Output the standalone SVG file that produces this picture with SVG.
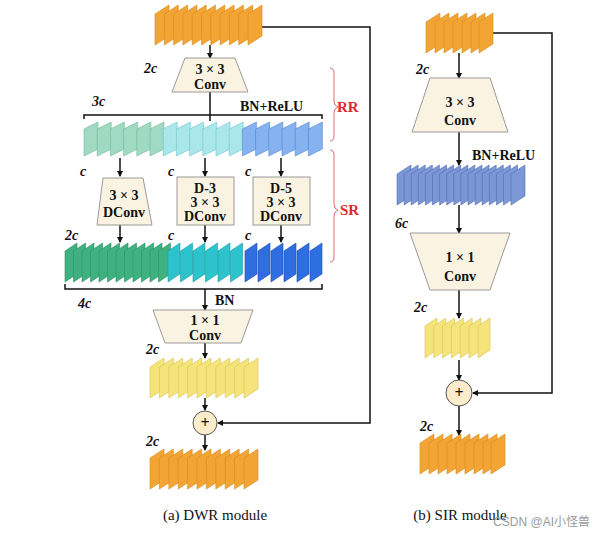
<svg xmlns="http://www.w3.org/2000/svg" xmlns:xlink="http://www.w3.org/1999/xlink" width="600" height="538" viewBox="0 0 600 538">
<style>
text{font-family:"Liberation Serif",serif;font-weight:bold;font-size:14px;fill:#111}
.lab{font-style:italic;font-size:14px}
.m{text-anchor:middle}
.red{fill:#e0282e;font-size:15px}
.cap{font-weight:normal;font-size:15px;text-anchor:middle}
.box{fill:#fbf3e2;stroke:#9a9a9a;stroke-width:1}
.ln{fill:none;stroke:#111;stroke-width:1.5}
.br{fill:none;stroke:#e06a6e;stroke-width:1}
.or{fill:#f2a534;stroke:#d8891a;stroke-width:0.6}
.ye{fill:#f5e47a;stroke:#d6c254;stroke-width:0.6}
.g1{fill:#a0dac2;stroke:#6fb99a;stroke-width:0.6}
.c1{fill:#a9e7ea;stroke:#6fc6cc;stroke-width:0.6}
.b1{fill:#86b2f0;stroke:#4f86d6;stroke-width:0.6}
.g2{fill:#3fb181;stroke:#27905f;stroke-width:0.6}
.c2{fill:#2dc3cc;stroke:#1a9aa3;stroke-width:0.6}
.b2{fill:#2f6ee0;stroke:#1d4fb2;stroke-width:0.6}
.bb{fill:#7b97d6;stroke:#4f6cb0;stroke-width:0.6}
</style>
<defs>
<marker id="ar" markerWidth="6" markerHeight="6" refX="5" refY="3" orient="auto" markerUnits="userSpaceOnUse"><path d="M0,0 L6,3 L0,6 z" fill="#111"/></marker>
<polygon id="s40" points="0,9 14,0 14,31 0,40"/>
<polygon id="s34" points="0,7 14,0 14,27 0,34"/>
<polygon id="s39" points="0,8 12,0 12,31 0,39"/>
<polygon id="s12" points="0,8 12,0 12,32 0,40"/>
</defs>
<rect width="600" height="538" fill="#fff"/>
<g id="connectors">
<path class="ln" d="M210,45 V58" marker-end="url(#ar)"/>
<path class="ln" d="M210,92 V121"/>
<path class="ln" d="M84,119 V115 H322 V119"/>
<path class="ln" d="M120,158 V176" marker-end="url(#ar)"/>
<path class="ln" d="M205,158 V176" marker-end="url(#ar)"/>
<path class="ln" d="M281,158 V176" marker-end="url(#ar)"/>
<path class="ln" d="M120,225 V242" marker-end="url(#ar)"/>
<path class="ln" d="M205,225 V242" marker-end="url(#ar)"/>
<path class="ln" d="M281,225 V242" marker-end="url(#ar)"/>
<path class="ln" d="M65,284 V289 H322 V284"/>
<path class="ln" d="M205,289 V310" marker-end="url(#ar)"/>
<path class="ln" d="M205,343 V358" marker-end="url(#ar)"/>
<path class="ln" d="M205,398 V410" marker-end="url(#ar)"/>
<path class="ln" d="M205,435 V450" marker-end="url(#ar)"/>
<path class="ln" d="M255,27 H370 V423 H218" marker-end="url(#ar)"/>
<path class="br" d="M330,68 q4,0 4,5 v28 q0,5 4,6 q-4,1 -4,6 v23 q0,5 -4,5"/>
<path class="br" d="M330,150 q4,0 4,5 v49 q0,5 4,6 q-4,1 -4,6 v41 q0,5 -4,5"/>
<path class="ln" d="M459,53 V78" marker-end="url(#ar)"/>
<path class="ln" d="M459,132 V165" marker-end="url(#ar)"/>
<path class="ln" d="M459,205 V233" marker-end="url(#ar)"/>
<path class="ln" d="M459,290 V318" marker-end="url(#ar)"/>
<path class="ln" d="M459,360 V380" marker-end="url(#ar)"/>
<path class="ln" d="M459,406 V435" marker-end="url(#ar)"/>
<path class="ln" d="M488,33 H552 V393 H473" marker-end="url(#ar)"/>
</g>
<g id="in_dwr">
<use href="#s40" x="155" y="5" class="or"/><use href="#s40" x="164.3" y="5" class="or"/><use href="#s40" x="173.6" y="5" class="or"/><use href="#s40" x="182.9" y="5" class="or"/><use href="#s40" x="192.2" y="5" class="or"/><use href="#s40" x="201.5" y="5" class="or"/><use href="#s40" x="210.8" y="5" class="or"/><use href="#s40" x="220.1" y="5" class="or"/><use href="#s40" x="229.4" y="5" class="or"/><use href="#s40" x="238.7" y="5" class="or"/><use href="#s40" x="248" y="5" class="or"/>
</g>
<g id="conv3_dwr">
<polygon class="box" points="185,58 235,58 248,92 172,92"/>
<text x="210" y="74" class="m">3 × 3</text><text x="210" y="89" class="m">Conv</text>
</g>
<g id="row1">
<use href="#s34" x="84" y="122" class="g1"/><use href="#s34" x="97.2" y="122" class="g1"/><use href="#s34" x="110.4" y="122" class="g1"/><use href="#s34" x="123.6" y="122" class="g1"/><use href="#s34" x="136.8" y="122" class="g1"/><use href="#s34" x="150" y="122" class="g1"/>
<use href="#s34" x="163.2" y="122" class="c1"/><use href="#s34" x="176.4" y="122" class="c1"/><use href="#s34" x="189.6" y="122" class="c1"/><use href="#s34" x="202.8" y="122" class="c1"/><use href="#s34" x="216" y="122" class="c1"/><use href="#s34" x="229.2" y="122" class="c1"/>
<use href="#s34" x="242.4" y="122" class="b1"/><use href="#s34" x="255.6" y="122" class="b1"/><use href="#s34" x="268.8" y="122" class="b1"/><use href="#s34" x="282" y="122" class="b1"/><use href="#s34" x="295.2" y="122" class="b1"/><use href="#s34" x="308.4" y="122" class="b1"/>
</g>
<g id="dconv">
<polygon class="box" points="103,178 143,178 152,225 97,225"/>
<text x="124" y="200" class="m">3 × 3</text><text x="124" y="217" class="m">DConv</text>
</g>
<g id="d3">
<rect class="box" x="177" y="177" width="57" height="48"/>
<text x="205" y="193" class="m">D-3</text><text x="205" y="207" class="m">3 × 3</text><text x="205" y="221" class="m">DConv</text>
</g>
<g id="d5">
<rect class="box" x="253" y="177" width="57" height="48"/>
<text x="281" y="193" class="m">D-5</text><text x="281" y="207" class="m">3 × 3</text><text x="281" y="221" class="m">DConv</text>
</g>
<g id="row2">
<use href="#s39" x="65" y="243" class="g2"/><use href="#s39" x="73.5" y="243" class="g2"/><use href="#s39" x="82" y="243" class="g2"/><use href="#s39" x="90.5" y="243" class="g2"/><use href="#s39" x="99" y="243" class="g2"/><use href="#s39" x="107.5" y="243" class="g2"/><use href="#s39" x="116" y="243" class="g2"/><use href="#s39" x="124.5" y="243" class="g2"/><use href="#s39" x="133" y="243" class="g2"/><use href="#s39" x="141.5" y="243" class="g2"/><use href="#s39" x="150" y="243" class="g2"/><use href="#s39" x="158.5" y="243" class="g2"/>
<use href="#s39" x="168" y="243" class="c2"/><use href="#s39" x="180.5" y="243" class="c2"/><use href="#s39" x="193" y="243" class="c2"/><use href="#s39" x="205.5" y="243" class="c2"/><use href="#s39" x="218" y="243" class="c2"/><use href="#s39" x="230.5" y="243" class="c2"/>
<use href="#s39" x="245" y="243" class="b2"/><use href="#s39" x="258" y="243" class="b2"/><use href="#s39" x="271" y="243" class="b2"/><use href="#s39" x="284" y="243" class="b2"/><use href="#s39" x="297" y="243" class="b2"/><use href="#s39" x="310" y="243" class="b2"/>
</g>
<g id="conv1_dwr">
<polygon class="box" points="153,310 253,310 241,343 165,343"/>
<text x="205" y="325" class="m">1 × 1</text><text x="205" y="340" class="m">Conv</text>
</g>
<g id="yel_dwr">
<use href="#s40" x="150" y="358" class="ye"/><use href="#s40" x="159.4" y="358" class="ye"/><use href="#s40" x="168.8" y="358" class="ye"/><use href="#s40" x="178.2" y="358" class="ye"/><use href="#s40" x="187.6" y="358" class="ye"/><use href="#s40" x="197" y="358" class="ye"/><use href="#s40" x="206.4" y="358" class="ye"/><use href="#s40" x="215.8" y="358" class="ye"/><use href="#s40" x="225.2" y="358" class="ye"/><use href="#s40" x="234.6" y="358" class="ye"/><use href="#s40" x="244" y="358" class="ye"/>
</g>
<g id="add_dwr">
<circle cx="205" cy="423" r="12" fill="#fbeccb" stroke="#555" stroke-width="1"/>
<text x="205" y="428" class="m" style="font-size:16px">+</text>
</g>
<g id="out_dwr">
<use href="#s40" x="150" y="449" class="or"/><use href="#s40" x="159.4" y="449" class="or"/><use href="#s40" x="168.8" y="449" class="or"/><use href="#s40" x="178.2" y="449" class="or"/><use href="#s40" x="187.6" y="449" class="or"/><use href="#s40" x="197" y="449" class="or"/><use href="#s40" x="206.4" y="449" class="or"/><use href="#s40" x="215.8" y="449" class="or"/><use href="#s40" x="225.2" y="449" class="or"/><use href="#s40" x="234.6" y="449" class="or"/><use href="#s40" x="244" y="449" class="or"/>
</g>
<g id="labels_dwr">
<text x="144" y="73" class="lab">2c</text>
<text x="92" y="106" class="lab">3c</text>
<text x="240" y="111">BN+ReLU</text>
<text x="337" y="112" class="red">RR</text>
<text x="340" y="215" class="red">SR</text>
<text x="80" y="176" class="lab">c</text><text x="168" y="176" class="lab">c</text><text x="245" y="176" class="lab">c</text>
<text x="65" y="240" class="lab">2c</text><text x="168" y="240" class="lab">c</text><text x="245" y="240" class="lab">c</text>
<text x="78" y="308" class="lab">4c</text>
<text x="215" y="305">BN</text>
<text x="146" y="354" class="lab">2c</text>
<text x="146" y="446" class="lab">2c</text>
<text x="215" y="520" class="cap">(a) DWR module</text>
</g>
<g id="in_sir">
<use href="#s40" x="426" y="13" class="or"/><use href="#s40" x="435" y="13" class="or"/><use href="#s40" x="444" y="13" class="or"/><use href="#s40" x="453" y="13" class="or"/><use href="#s40" x="462" y="13" class="or"/><use href="#s40" x="471" y="13" class="or"/><use href="#s40" x="479" y="13" class="or"/>
</g>
<g id="conv3_sir">
<polygon class="box" points="430,78 490,78 508,132 412,132"/>
<text x="460" y="107" class="m">3 × 3</text><text x="460" y="125" class="m">Conv</text>
</g>
<g id="blue_sir">
<use href="#s40" x="397" y="165" class="bb"/><use href="#s40" x="404.1" y="165" class="bb"/><use href="#s40" x="411.2" y="165" class="bb"/><use href="#s40" x="418.3" y="165" class="bb"/><use href="#s40" x="425.4" y="165" class="bb"/><use href="#s40" x="432.5" y="165" class="bb"/><use href="#s40" x="439.6" y="165" class="bb"/><use href="#s40" x="446.7" y="165" class="bb"/><use href="#s40" x="453.8" y="165" class="bb"/><use href="#s40" x="460.9" y="165" class="bb"/><use href="#s40" x="468" y="165" class="bb"/><use href="#s40" x="475.1" y="165" class="bb"/><use href="#s40" x="482.2" y="165" class="bb"/><use href="#s40" x="489.3" y="165" class="bb"/><use href="#s40" x="496.4" y="165" class="bb"/><use href="#s40" x="503.5" y="165" class="bb"/><use href="#s40" x="511" y="165" class="bb"/>
</g>
<g id="conv1_sir">
<polygon class="box" points="410,233 510,233 490,290 430,290"/>
<text x="460" y="262" class="m">1 × 1</text><text x="460" y="281" class="m">Conv</text>
</g>
<g id="yel_sir">
<use href="#s12" x="425" y="318" class="ye"/><use href="#s12" x="433.8" y="318" class="ye"/><use href="#s12" x="442.6" y="318" class="ye"/><use href="#s12" x="451.4" y="318" class="ye"/><use href="#s12" x="460.2" y="318" class="ye"/><use href="#s12" x="469" y="318" class="ye"/><use href="#s12" x="478" y="318" class="ye"/>
</g>
<g id="add_sir">
<circle cx="459" cy="393" r="13" fill="#fbeccb" stroke="#555" stroke-width="1"/>
<text x="459" y="398" class="m" style="font-size:16px">+</text>
</g>
<g id="out_sir">
<use href="#s40" x="420" y="434" class="or"/><use href="#s40" x="429" y="434" class="or"/><use href="#s40" x="438" y="434" class="or"/><use href="#s40" x="447" y="434" class="or"/><use href="#s40" x="456" y="434" class="or"/><use href="#s40" x="465" y="434" class="or"/><use href="#s40" x="474" y="434" class="or"/><use href="#s40" x="483" y="434" class="or"/><use href="#s40" x="491" y="434" class="or"/>
</g>
<g id="labels_sir">
<text x="416" y="74" class="lab">2c</text>
<text x="472" y="160">BN+ReLU</text>
<text x="395" y="228" class="lab">6c</text>
<text x="414" y="312" class="lab">2c</text>
<text x="420" y="431" class="lab">2c</text>
<text x="460" y="520" class="cap">(b) SIR module</text>
<text x="590" y="526" style="font-family:'Liberation Sans','Noto Sans CJK SC',sans-serif;font-weight:normal;font-size:12px;fill:#9a9a9a;text-anchor:end">CSDN @AI小怪兽</text>
</g>
</svg>
